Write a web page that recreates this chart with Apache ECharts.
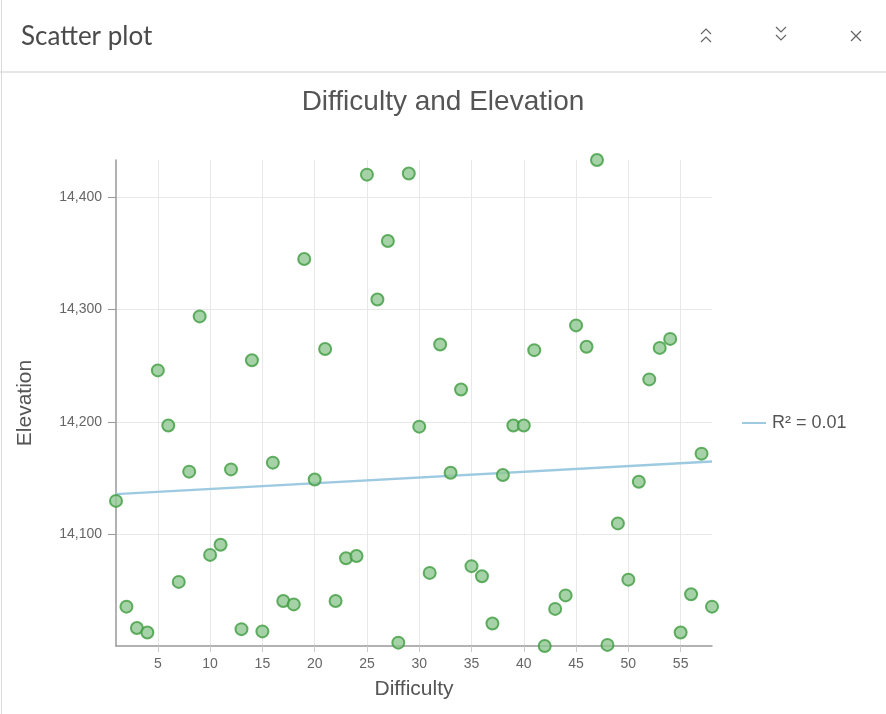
<!DOCTYPE html>
<html>
<head>
<meta charset="utf-8">
<script src="https://cdn.jsdelivr.net/npm/echarts@6/dist/echarts.min.js"></script>
<style>
html,body{margin:0;padding:0;background:#fff;}
#c{width:886px;height:714px;}
</style>
</head>
<body>
<div id="c"></div>
<script>
const difficulty = [1,2,3,4,5,6,7,8,9,10,11,12,13,14,15,16,17,18,19,20,21,22,23,24,25,26,27,28,29,30,31,32,33,34,35,36,37,38,39,40,41,42,43,44,45,46,47,48,49,50,51,52,53,54,55,56,57,58];
const elevation = [14130,14036,14017,14013,14246,14197,14058,14156,14294,14082,14091,14158,14016,14255,14014,14164,14041,14038,14345,14149,14265,14041,14079,14081,14420,14309,14361,14004,14421,14196,14066,14269,14155,14229,14072,14063,14021,14153,14197,14197,14264,14001,14034,14046,14286,14267,14433,14002,14110,14060,14147,14238,14266,14274,14013,14047,14172,14036];
const trendX = [1, 58];
const trendY = [14136, 14165];
const xTicks = [5,10,15,20,25,30,35,40,45,50,55];
const yTicks = [14100,14200,14300,14400];
const trendLabel = 'R² = 0.01';

const chart = echarts.init(document.getElementById('c'), null, {renderer:'canvas'});
const pts = difficulty.map((d,i)=>[d, elevation[i]]);
const trend = trendX.map((x,i)=>[x, trendY[i]]);
const iconStroke = {stroke:'#666', lineWidth:1.2, fill:null};
chart.setOption({
  animation:false,
  title:[
    {text:'Scatter plot', left:16, top:19, textStyle:{fontFamily:'Lato', fontSize:26, fontWeight:'normal', color:'#4a4a4a'}},
    {text:'Difficulty and Elevation', left:'center', top:83, textStyle:{fontFamily:'Liberation Sans', fontSize:28, fontWeight:'normal', color:'#555'}}
  ],
  graphic:[
    {type:'line', shape:{x1:0,y1:72,x2:886,y2:72}, style:{stroke:'#e6e6e6', lineWidth:2}},
    {type:'line', shape:{x1:1.5,y1:0,x2:1.5,y2:714}, style:{stroke:'#d9d9d9', lineWidth:1}},
    {type:'polyline', shape:{points:[[701,34],[706,29],[711,34]]}, style:iconStroke},
    {type:'polyline', shape:{points:[[701,42],[706,37],[711,42]]}, style:iconStroke},
    {type:'polyline', shape:{points:[[776,27],[781,32],[786,27]]}, style:iconStroke},
    {type:'polyline', shape:{points:[[776,35],[781,40],[786,35]]}, style:iconStroke},
    {type:'line', shape:{x1:851,y1:31,x2:861,y2:41}, style:iconStroke},
    {type:'line', shape:{x1:861,y1:31,x2:851,y2:41}, style:iconStroke}
  ],
  legend:{
    data:[{name:trendLabel, icon:'rect'}],
    left:737, top:409, itemWidth:24, itemHeight:2, itemGap:6,
    textStyle:{fontFamily:'Liberation Sans', fontSize:18, color:'#555', padding:[0,0,0,1]}
  },
  grid:{left:116, right:174, top:160, bottom:68, containLabel:false},
  xAxis:{
    type:'value', min:1, max:58,
    name:'Difficulty', nameLocation:'middle', nameGap:33,
    nameTextStyle:{fontFamily:'Liberation Sans', fontSize:21, color:'#555'},
    axisLine:{show:true, lineStyle:{color:'#999', width:1.5}},
    axisTick:{show:true, length:6, lineStyle:{color:'#ccc'}, customValues:xTicks},
    axisLabel:{customValues:xTicks, color:'#666', fontFamily:'Liberation Sans', fontSize:14, margin:11},
    splitLine:{show:true, lineStyle:{color:'#e8e8e8'}}
  },
  yAxis:{
    type:'value', min:'dataMin', max:'dataMax',
    name:'Elevation', nameLocation:'middle', nameGap:80, nameRotate:90,
    nameTextStyle:{fontFamily:'Liberation Sans', fontSize:21, color:'#555'},
    axisLine:{show:true, lineStyle:{color:'#999', width:1.5}},
    axisTick:{show:true, length:8, lineStyle:{color:'#999'}, customValues:yTicks},
    axisLabel:{customValues:yTicks, color:'#666', fontFamily:'Liberation Sans', fontSize:14, margin:14,
      formatter:v=>v.toLocaleString('en-US')},
    splitLine:{show:true, lineStyle:{color:'#e8e8e8'}}
  },
  series:[
    {type:'line', name:trendLabel, data:trend, showSymbol:false, symbol:'none', color:'#9ecae1',
      lineStyle:{color:'#9ecae1', width:2.5}, z:1},
    {type:'scatter', name:'points', data:pts, symbolSize:12, z:3,
      itemStyle:{color:'#8fc790', borderColor:'#3f9c40', borderWidth:2}}
  ]
});
</script>
</body>
</html>
